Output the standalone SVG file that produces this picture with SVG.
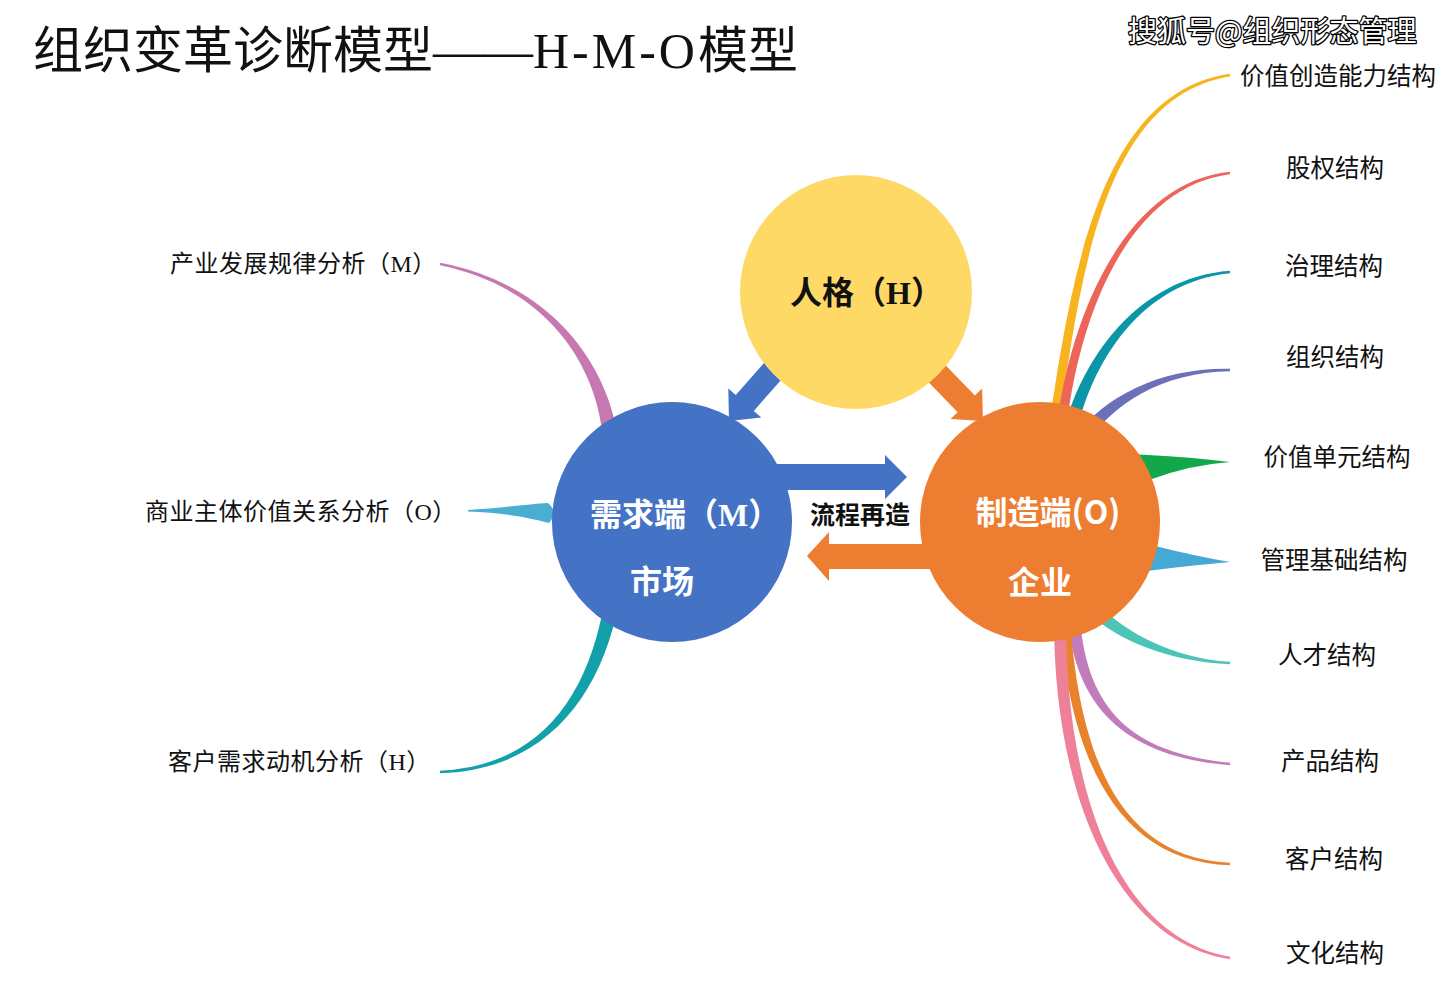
<svg xmlns="http://www.w3.org/2000/svg" width="1454" height="986" viewBox="0 0 1454 986">
<style>
.serif{font-family:"Liberation Serif","Noto Sans CJK SC",serif;}
.sans{font-family:"Noto Sans CJK SC","Liberation Sans",sans-serif;}
.lbl{font-size:24px;fill:#111;letter-spacing:0.5px;}
.rlbl{font-size:24.5px;fill:#111;text-anchor:middle;}
.ctr{font-weight:bold;font-size:32px;}
.wm{font-size:29px;fill:#fff;stroke:#000;stroke-width:2.6px;paint-order:stroke;stroke-linejoin:round;}
</style>
<rect width="1454" height="986" fill="#fff"/>
<text class="serif" x="33" y="68" font-size="50" fill="#111">组织变革诊断模型——<tspan letter-spacing="3">H-M-O</tspan>模型</text>
<text class="sans wm" x="1128" y="42">搜狐号@组织形态管理</text>

<g id="connectors">
  <!-- right branches -->
  <path fill="#F8B41E" d="M1047,439.4 C1070.5,279.4 1098.7,92.8 1229.8,73.8 L1230.2,76.2 C1101.3,97.2 1079.5,280.6 1057,440.6 Z"/>
  <path fill="#EC6558" d="M1055,439.5 C1067.5,319.5 1123.8,182.8 1230,171.8 L1230,174.2 C1126.2,187.2 1076.5,320.5 1065,440.5 Z"/>
  <path fill="#0A96A6" d="M1061.6,438.6 C1079.5,358.8 1138.5,277.5 1230,270.7 L1230,273.3 C1141.5,282.5 1090.5,361.2 1074.4,441.4 Z"/>
  <path fill="#6B70B8" d="M1074.8,436.1 C1105.5,396.6 1159.5,367.5 1230,368.8 L1230,371.2 C1160.5,372.5 1114.5,403.4 1085.2,443.9 Z"/>
  <path fill="#12A84A" d="M1128,454 L1148,455 Q1190,457 1230,462 Q1190,465 1152,479 L1128,482 Z"/>
  <path fill="#45A8D5" d="M1138,545 L1155,546 Q1195,556 1230,562 Q1195,565 1155,570 L1138,572 Z"/>
  <path fill="#4CC5B8" d="M1099.6,605.4 C1124,631 1170.8,657.8 1230,661.8 L1230,664.2 C1169.2,662.2 1116,639 1090.4,614.6 Z"/>
  <path fill="#C27CBC" d="M1080,619.5 C1087.5,709.5 1131,752.8 1230,762.8 L1230,765.2 C1129,757.2 1076.5,710.5 1068,620.5 Z"/>
  <path fill="#E8832C" d="M1070,619.6 C1080,759.6 1121,857.8 1230,862.8 L1230,865.2 C1119,862.2 1070,760.4 1060,620.4 Z"/>
  <path fill="#EE8098" d="M1066,620 C1066,800 1121.5,937.8 1230,956.8 L1230,959.2 C1118.5,942.2 1054,800 1054,620 Z"/>
  <!-- left branches -->
  <path fill="#C878B0" d="M618,442 C614,390 571.5,288 440,262.8 L440,265.2 C568.5,292 601,392 603,442 Z"/>
  <path fill="#4AADD2" d="M468,510 C500,508 530,504 548,503 Q559,512 549,523 C530,518 500,512 468,511.5 Z"/>
  <path fill="#12A0AA" d="M619,601 C601,701 541,770.5 440,773.2 L440,770.8 C539,765.5 588,699 605,599 Z"/>
  <!-- diagonal arrows -->
  <polygon fill="#4472C4" points="729,421 761.3,417.5 753.8,410.9 800.7,357.7 782.7,341.8 735.8,395.1 728.3,388.5"/>
  <polygon fill="#ED7D31" points="983,421 950.5,419.1 957.7,412.2 908.2,361.3 925.4,344.5 974.9,395.4 982.1,388.5"/>
</g>

<g id="node-h">
  <ellipse cx="856" cy="292" rx="116" ry="117" fill="#FFD966"/>
  <text class="serif ctr" x="790" y="304" fill="#111">人格（H）</text>
</g>
<g id="node-m">
  <circle cx="672" cy="522" r="120" fill="#4472C4"/>
</g>
<g id="node-o">
  <circle cx="1040" cy="522" r="120" fill="#ED7D31"/>
</g>

<g id="connectors-flow">
  <polygon fill="#4472C4" points="760,464 885,464 885,455 907,477 885,499 885,490 760,490"/>
  <polygon fill="#ED7D31" points="950,544 829,544 829,532 807,556 829,581 829,569 950,569"/>
</g>

<g id="node-m-text">
  <text class="serif ctr" x="590" y="526" fill="#fff">需求端（M）</text>
  <text class="serif ctr" x="662" y="593" fill="#fff" text-anchor="middle">市场</text>
</g>
<g id="node-o-text">
  <text class="sans ctr" x="1048" y="524" fill="#fff" text-anchor="middle" font-size="32">制造端(O)</text>
  <text class="serif ctr" x="1040" y="594" fill="#fff" text-anchor="middle">企业</text>
</g>
<g id="label-flow">
  <text class="serif" x="810" y="524" font-size="25" font-weight="bold" fill="#111">流程再造</text>
</g>

<g id="left-labels">
  <text class="serif lbl" x="170" y="272">产业发展规律分析（M）</text>
  <text class="serif lbl" x="145" y="520">商业主体价值关系分析（O）</text>
  <text class="serif lbl" x="168" y="770">客户需求动机分析（H）</text>
</g>

<g id="right-labels">
  <text class="sans rlbl" x="1338" y="85">价值创造能力结构</text>
  <text class="sans rlbl" x="1335" y="177">股权结构</text>
  <text class="sans rlbl" x="1334" y="275">治理结构</text>
  <text class="sans rlbl" x="1335" y="366">组织结构</text>
  <text class="sans rlbl" x="1337" y="466">价值单元结构</text>
  <text class="sans rlbl" x="1334" y="569">管理基础结构</text>
  <text class="sans rlbl" x="1327" y="664">人才结构</text>
  <text class="sans rlbl" x="1330" y="770">产品结构</text>
  <text class="sans rlbl" x="1334" y="868">客户结构</text>
  <text class="sans rlbl" x="1335" y="962">文化结构</text>
</g>
</svg>
